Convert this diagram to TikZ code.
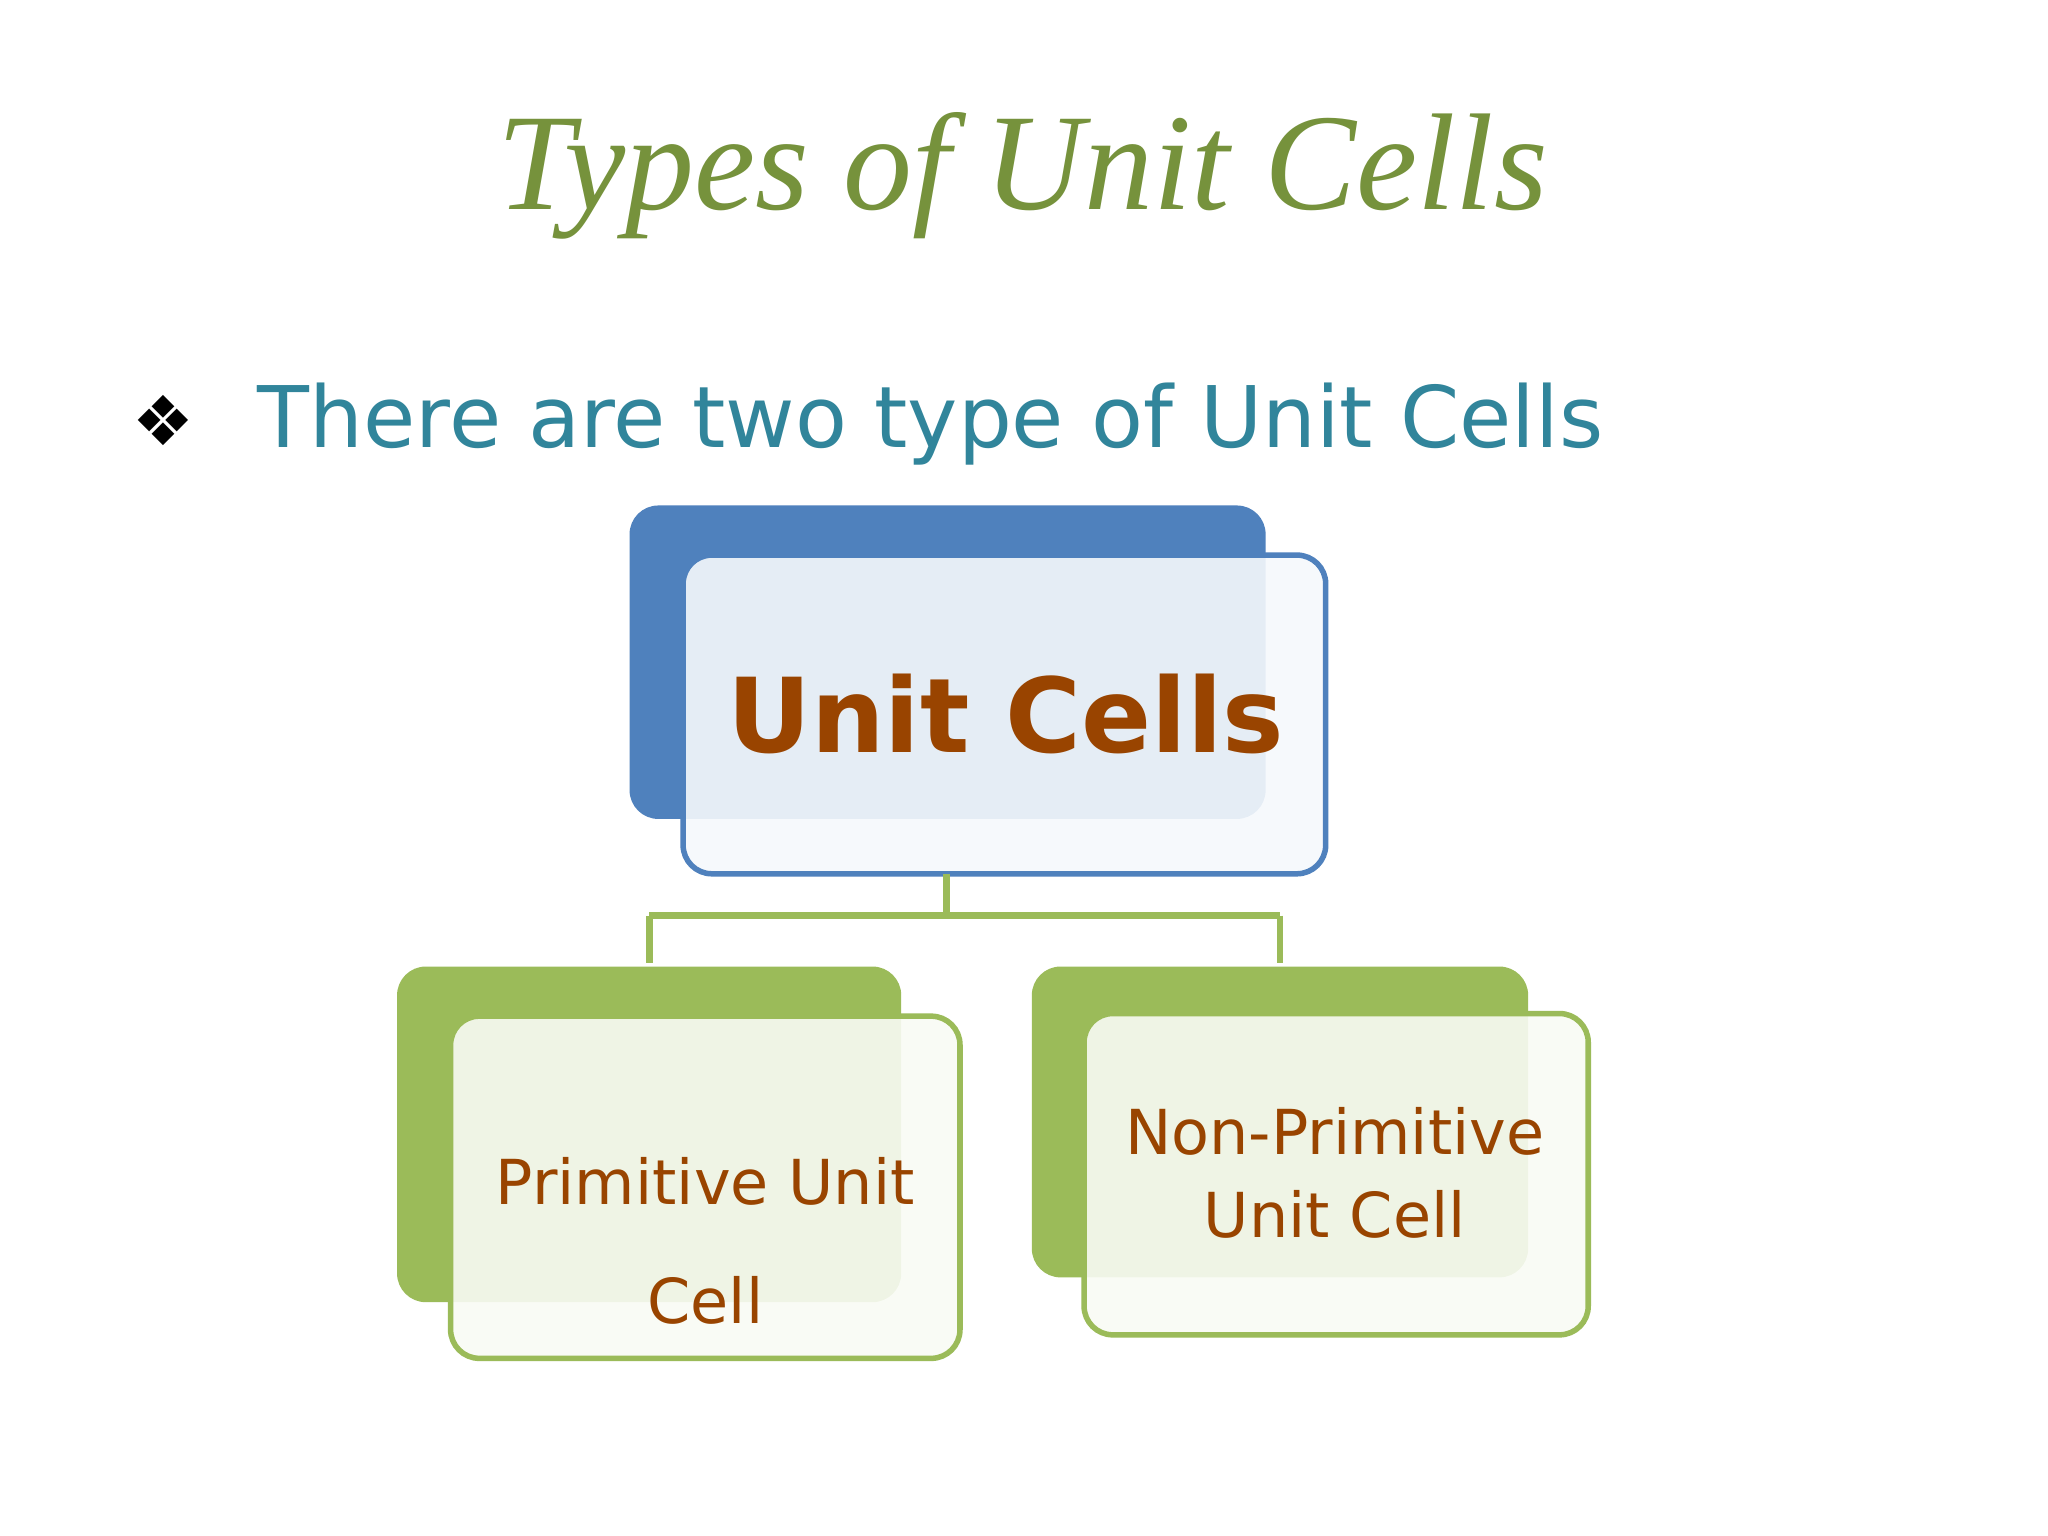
\documentclass[tikz,border=0pt]{standalone}
\usepackage{fontspec}
\setmainfont{DejaVu Sans}
\newfontfamily\titlefont{Liberation Serif}
\usetikzlibrary{positioning}
\definecolor{tgreen}{RGB}{118,146,60}
\definecolor{tteal}{RGB}{49,133,155}
\definecolor{bblue}{RGB}{79,129,189}
\definecolor{ggreen}{RGB}{155,187,89}
\definecolor{tbrown}{RGB}{153,68,0}
\tikzset{
 back/.style={rounded corners=2.2mm},
 front/.style={rounded corners=2.2mm, line width=1.2pt, fill opacity=0.9},
 lbl/.style={text=tbrown, align=center},
}
\begin{document}
\begin{tikzpicture}[x=0.01cm,y=-0.01cm]
\useasboundingbox[fill=white] (0,0) rectangle (1568,1176);
\node[text=tgreen, font=\titlefont\itshape\fontsize{30}{34}\selectfont] (title) at (783,135) {Types of Unit Cells};
\node[font=\fontsize{15}{18}\selectfont] (bul) at (125,322) {❖};
\node[text=tteal, anchor=west, font=\fontsize{18.5}{22}\selectfont] (sub) at (185,325) {There are two type of Unit Cells};
% top
\fill[bblue, back] (482,387) rectangle (969,627);
\draw[bblue, fill=bblue!5, front] (523,425) rectangle (1015,669);
\node[text=tbrown, font=\bfseries\fontsize{22.5}{26}\selectfont] (top) at (770,547) {Unit Cells};
% connectors
\coordinate (ctop) at (725,669);
\coordinate (cmid) at (725,701);
\coordinate (cl) at (497,701);
\coordinate (cr) at (980,701);
\coordinate (cld) at (497,737);
\coordinate (crd) at (980,737);
\draw[ggreen, line width=1.5pt] (ctop) -- (cmid) (cl) -- (cr) (cl) -- (cld) (cr) -- (crd);
% left
\fill[ggreen, back] (304,740) rectangle (690,997);
\draw[ggreen, fill=ggreen!6, front] (345,778) rectangle (735,1040);
\node[lbl, font=\fontsize{13.5}{26}\selectfont] (left) at (540,950) {Primitive Unit\\Cell};
% right
\fill[ggreen, back] (790,740) rectangle (1170,978);
\draw[ggreen, fill=ggreen!6, front] (830,776) rectangle (1216,1022);
\node[lbl, font=\fontsize{13.5}{18}\selectfont] (right) at (1022,898) {Non-Primitive\\Unit Cell};
\end{tikzpicture}
\end{document}
